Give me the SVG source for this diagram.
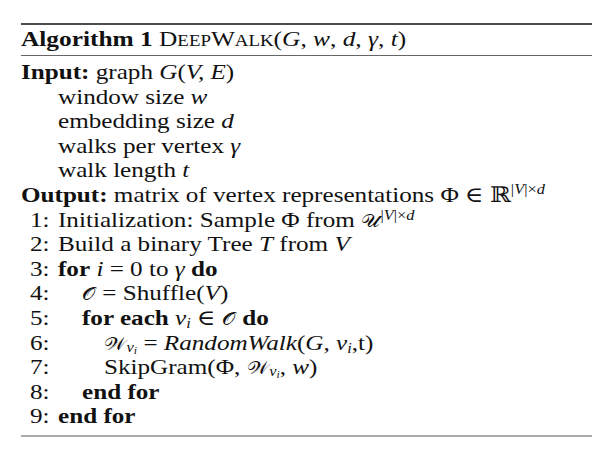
<svg xmlns="http://www.w3.org/2000/svg" width="600" height="458" viewBox="0 0 600 458">
<style>
text{font-family:"Liberation Serif","DejaVu Serif",serif;font-size:21.5px;fill:#111}
.b{font-weight:bold}
.i{font-style:italic}
.sc{font-size:16px}
.sup{font-size:14px}
.sub{font-size:14px}
.ss{font-size:10px}
.m{font-family:"DejaVu Serif","Liberation Serif",serif}
.cal{font-family:"DejaVu Serif","Liberation Serif",serif;font-size:18px}
</style>
<rect width="600" height="458" fill="#fff"/>
<g id="rules">
<line x1="21" y1="24" x2="592" y2="24" stroke="#111" stroke-width="1.5"/>
<line x1="21" y1="55.5" x2="592" y2="55.5" stroke="#555" stroke-width="0.9"/>
<line x1="21" y1="436" x2="592" y2="436" stroke="#555" stroke-width="1.2"/>
</g>
<g id="title">
<text transform="translate(21,46) scale(1.18,1)"><tspan class="b">Algorithm 1</tspan> D<tspan class="sc">EEP</tspan>W<tspan class="sc">ALK</tspan>(<tspan class="i">G</tspan>, <tspan class="i">w</tspan>, <tspan class="i">d</tspan>, <tspan class="i">γ</tspan>, <tspan class="i">t</tspan>)</text>
</g>
<g id="inputs">
<text transform="translate(21,79) scale(1.17,1)"><tspan class="b">Input:</tspan> graph <tspan class="i">G</tspan>(<tspan class="i">V, E</tspan>)</text>
<text transform="translate(58,103.6) scale(1.17,1)">window size <tspan class="i">w</tspan></text>
<text transform="translate(58,128.2) scale(1.17,1)">embedding size <tspan class="i">d</tspan></text>
<text transform="translate(58,152.8) scale(1.17,1)">walks per vertex <tspan class="i">γ</tspan></text>
<text transform="translate(58,177.4) scale(1.17,1)">walk length <tspan class="i">t</tspan></text>
<text transform="translate(21,202) scale(1.17,1)"><tspan class="b">Output:</tspan> matrix of vertex representations Φ ∈ <tspan class="m">ℝ</tspan><tspan class="sup" dy="-8">|<tspan class="i">V</tspan>|×<tspan class="i">d</tspan></tspan></text>
</g>
<g id="steps">
<text transform="translate(30,226.6) scale(1.17,1)">1:</text>
<text transform="translate(58,226.6) scale(1.17,1)">Initialization: Sample Φ from <tspan class="cal">𝒰</tspan><tspan class="sup" dy="-7">|<tspan class="i">V</tspan>|×<tspan class="i">d</tspan></tspan></text>
<text transform="translate(30,251.2) scale(1.17,1)">2:</text>
<text transform="translate(58,251.2) scale(1.17,1)">Build a binary Tree <tspan class="i">T</tspan> from <tspan class="i">V</tspan></text>
<text transform="translate(30,275.8) scale(1.17,1)">3:</text>
<text transform="translate(58,275.8) scale(1.17,1)"><tspan class="b">for</tspan> <tspan class="i">i</tspan> = 0 to <tspan class="i">γ</tspan> <tspan class="b">do</tspan></text>
<text transform="translate(30,300.4) scale(1.17,1)">4:</text>
<text transform="translate(82,300.4) scale(1.17,1)"><tspan class="cal">𝒪</tspan> = Shuffle(<tspan class="i">V</tspan>)</text>
<text transform="translate(30,325) scale(1.17,1)">5:</text>
<text transform="translate(82,325) scale(1.17,1)"><tspan class="b">for each</tspan> <tspan class="i">v</tspan><tspan class="sub i" dy="3">i</tspan><tspan dy="-3"> ∈ </tspan><tspan class="cal">𝒪</tspan> <tspan class="b">do</tspan></text>
<text transform="translate(30,349.6) scale(1.17,1)">6:</text>
<text transform="translate(104,349.6) scale(1.17,1)"><tspan class="cal">𝒲</tspan><tspan class="sub i" dy="2">v</tspan><tspan class="ss i" dy="2">i</tspan><tspan dy="-4"> = </tspan><tspan class="i">RandomWalk</tspan>(<tspan class="i">G, v</tspan><tspan class="sub i" dy="3">i</tspan><tspan dy="-3">,t)</tspan></text>
<text transform="translate(30,374.2) scale(1.17,1)">7:</text>
<text transform="translate(104,374.2) scale(1.17,1)">SkipGram(Φ, <tspan class="cal">𝒲</tspan><tspan class="sub i" dy="2">v</tspan><tspan class="ss i" dy="2">i</tspan><tspan dy="-4">, </tspan><tspan class="i">w</tspan>)</text>
<text transform="translate(30,398.8) scale(1.17,1)">8:</text>
<text transform="translate(82,398.8) scale(1.17,1)" class="b">end for</text>
<text transform="translate(30,423.4) scale(1.17,1)">9:</text>
<text transform="translate(58,423.4) scale(1.17,1)" class="b">end for</text>
</g>
</svg>
